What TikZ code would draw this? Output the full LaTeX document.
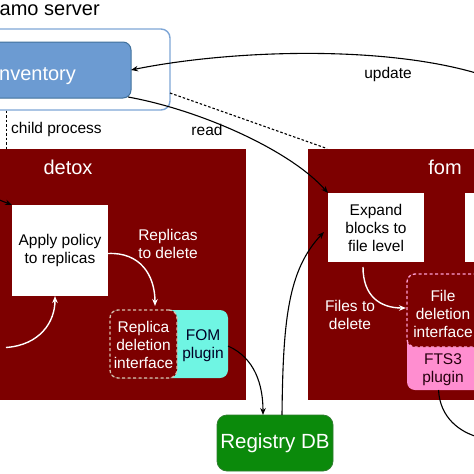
\documentclass[tikz,border=0pt]{standalone}
\usepackage{fontspec}
\setmainfont{Liberation Sans}
\usetikzlibrary{arrows.meta}
\definecolor{maroon}{HTML}{7D0000}
\definecolor{invfill}{HTML}{6C9BD2}
\definecolor{invdraw}{HTML}{41719C}
\definecolor{serverdraw}{HTML}{7EA6D6}
\definecolor{cyanplug}{HTML}{6FF5E3}
\definecolor{pinkplug}{HTML}{FF8ED0}
\definecolor{greendb}{HTML}{0B8A0B}
\definecolor{greendraw}{HTML}{2E7D2E}
\definecolor{dashbeige}{HTML}{D9C3B0}
\definecolor{dashpink}{HTML}{FF9FD5}
\tikzset{
  box/.style={rectangle, inner sep=0pt, outer sep=0pt},
  whitebox/.style={box, fill=white, font=\fontsize{15.5}{18}\selectfont, align=center},
  maroonbox/.style={box, fill=maroon},
  plugbox/.style={box, rounded corners=8pt},
  dashbox/.style={box, rounded corners=8pt, fill=maroon, dashed, dash pattern=on 3pt off 2.5pt, line width=1.3pt},
  lab/.style={inner sep=0pt, font=\fontsize{15.5}{18}\selectfont},
  boxtext/.style={inner sep=0pt, font=\fontsize{15.5}{18}\selectfont, align=center},
  blackarrow/.style={line width=1.1pt, -{Stealth[length=7pt,width=5.5pt]}},
  whitearrow/.style={draw=white, line width=1.4pt, -{Stealth[length=7pt,width=5.5pt]}},
}
\begin{document}
\begin{tikzpicture}[x=1pt,y=-1pt]
\useasboundingbox (0,0) rectangle (474,474);
\begin{scope}
\clip (0,0) rectangle (474,474);
% server
\node[box, draw=serverdraw, line width=1.4pt, rounded corners=9pt, minimum width=260pt, minimum height=81pt] (server) at (40,69.5) {};
\node[box, draw=invdraw, fill=invfill, line width=1pt, rounded corners=8pt, minimum width=221pt, minimum height=56pt] (inv) at (20.5,70) {};
\node[inner sep=0pt, anchor=west, font=\fontsize{20}{22}\selectfont] (servertitle) at (-0.5,10.5) {amo server};
\node[inner sep=0pt, anchor=base west, text=white, font=\fontsize{20}{22}\selectfont] (invtext) at (-1,80) {nventory};
% detox and fom
\node[maroonbox, minimum width=270pt, minimum height=251pt] (detox) at (111,274.5) {};
\node[maroonbox, minimum width=182pt, minimum height=251pt] (fom) at (399,274.5) {};
\node[inner sep=0pt, anchor=base, text=white, font=\fontsize{20}{22}\selectfont] (detoxlab) at (68,174) {detox};
\node[inner sep=0pt, anchor=base, text=white, font=\fontsize{20}{22}\selectfont] (fomlab) at (445,174) {fom};
% white boxes
\node[whitebox, minimum width=96pt, minimum height=91pt] (apply) at (60,250.5) {Apply policy\\to replicas};
\node[whitebox, minimum width=96pt, minimum height=69pt] (expand) at (376,227.5) {Expand\\blocks to\\file level};
\node[whitebox, minimum width=30pt, minimum height=69pt] (fomright) at (480,227.5) {};
% plugins
\node[plugbox, fill=cyanplug, minimum width=118pt, minimum height=68pt] (fomplugin) at (169,344) {};
\node[dashbox, draw=dashbeige, minimum width=67pt, minimum height=68pt] (repdel) at (143.5,344) {};
\node[boxtext, text=white] (repdeltext) at (143.5,344.5) {Replica\\deletion\\interface};
\node[boxtext, text=black!85!blue] (fomplugtext) at (203,345.5) {FOM\\plugin};
\node[plugbox, fill=pinkplug, minimum width=83pt, minimum height=116pt] (fts3) at (448.5,332) {};
\node[dashbox, draw=dashpink, minimum width=83pt, minimum height=73pt] (filedel) at (448.5,310.5) {};
\node[boxtext, text=white] (filedeltext) at (443,313.5) {File\\deletion\\interface};
\node[boxtext, text=black!80!purple] (fts3text) at (443,369.5) {FTS3\\plugin};
% registry
\node[box, fill=greendb, draw=greendraw, line width=0.8pt, rounded corners=10pt, minimum width=116pt, minimum height=56pt, text=white, font=\fontsize{20.5}{22}\selectfont] (registry) at (275,443) {Registry DB};
% labels
\node[lab, anchor=base west] (childlab) at (11,133) {child process};
\node[lab, anchor=base] (readlab) at (207,135) {read};
\node[lab, anchor=base] (updatelab) at (388,78) {update};
\node[boxtext, text=white] (repliclab) at (168,244) {Replicas\\to delete};
\node[boxtext, text=white] (fileslab) at (350,315) {Files to\\delete};
% coordinates for free ends
\coordinate (childtop) at (6.7,110.5);
\coordinate (childbot) at (6.7,149);
\coordinate (srvright) at (170,93);
\coordinate (fomtop) at (327,148.5);
\coordinate (updstart) at (476,73);
\coordinate (leftin) at (-3,199);
\coordinate (leftloop) at (6,347.5);
\coordinate (ftsout) at (478,437);
\coordinate (repin) at (155,306);
\coordinate (filein) at (406,308);
% connectors
\draw[line width=1.1pt, dash pattern=on 2.5pt off 2pt] (childtop) -- (childbot);
\draw[line width=1.1pt, dash pattern=on 2.5pt off 2pt] (srvright) -- (fomtop);
\draw[blackarrow] ([shift={(-3,-1)}]inv.south east) .. controls (200,110) and (290,150) .. (expand.north west);
\draw[blackarrow] (updstart) .. controls (380,45) and (230,50) .. (inv.east);
\draw[blackarrow] (leftin) -- (apply.north west);
\draw[whitearrow] (leftloop) .. controls (40,345) and (55,322) .. ([xshift=-5pt]apply.south);
\draw[whitearrow] ([yshift=-3pt]apply.east) .. controls (140,252) and (155,275) .. (repin);
\draw[whitearrow] ([xshift=-13pt,yshift=-5pt]expand.south) .. controls (363,296) and (380,308) .. (filein);
\draw[blackarrow] ([yshift=-2pt]fomplugin.east) .. controls (255,358) and (263,385) .. ([xshift=-12pt]registry.north);
\draw[blackarrow] ([xshift=7pt]registry.north) .. controls (283,320) and (288,270) .. ([xshift=-4pt,yshift=-4.5pt]expand.west);
\draw[line width=1.1pt] ([xshift=-10pt]fts3.south) .. controls (440,418) and (460,432) .. (ftsout);
\end{scope}
\end{tikzpicture}
\end{document}
